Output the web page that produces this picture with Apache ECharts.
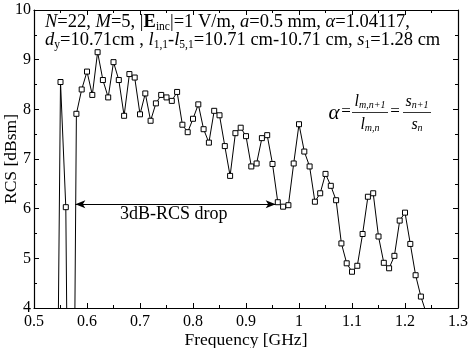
<!DOCTYPE html>
<html><head><meta charset="utf-8">
<script src="https://cdn.jsdelivr.net/npm/echarts@6/dist/echarts.min.js"></script>
<style>html,body{margin:0;padding:0;background:#fff}#c{width:474px;height:348px}</style>
</head><body><div id="c"></div>
<script>
var freq = [0.54,0.55,0.56,0.57,0.58,0.59,0.60,0.61,0.62,0.63,0.64,0.65,0.66,0.67,0.68,0.69,
  0.70,0.71,0.72,0.73,0.74,0.75,0.76,0.77,0.78,0.79,0.80,0.81,0.82,0.83,0.84,0.85,0.86,0.87,0.88,0.89,
  0.90,0.91,0.92,0.93,0.94,0.95,0.96,0.97,0.98,0.99,1.00,1.01,1.02,1.03,1.04,1.05,1.06,1.07,1.08,1.09,
  1.10,1.11,1.12,1.13,1.14,1.15,1.16,1.17,1.18,1.19,1.20,1.21,1.22,1.23,1.24];
var rcs = [-3.0,8.55,6.03,-6.0,7.91,8.40,8.76,8.29,9.15,8.59,8.24,8.95,8.59,7.87,8.71,8.64,
  7.90,8.32,7.77,8.12,8.29,8.24,8.17,8.35,7.69,7.54,7.81,8.10,7.60,7.33,7.97,7.88,7.26,6.66,7.52,7.63,
  7.46,6.85,6.91,7.42,7.48,6.90,6.13,6.04,6.07,6.91,7.70,7.15,6.85,6.14,6.31,6.70,6.46,6.17,5.30,4.90,
  4.73,4.85,5.49,6.24,6.31,5.44,4.91,4.80,5.05,5.76,5.92,5.29,4.66,4.23,3.90];
var xTicks = [0.5,0.6,0.7,0.8,0.9,1.0,1.1,1.2,1.3];
var yTicks = [4,5,6,7,8,9,10];
var dropArrow = {from:0.578, to:0.956, level:6.09, label:'3dB-RCS drop'};

var FF = 'Liberation Serif';
var chart = echarts.init(document.getElementById('c'), null, {renderer:'canvas'});
var axCommon = {
  axisLine:{show:true,lineStyle:{color:'#000',width:1.2}},
  axisTick:{show:true,inside:true,length:5,lineStyle:{color:'#000'}},
  minorTick:{show:true,splitNumber:2,length:3,lineStyle:{color:'#000'}},
  splitLine:{show:false}
};
function ax(extra){ return Object.assign({}, JSON.parse(JSON.stringify(axCommon)), extra); }
var FS = 18.5;
var sub = {fontFamily:FF,fontSize:11.5,padding:[8,0,0,0],color:'#000'};
var richBase = {
  i:{fontFamily:FF,fontSize:FS,fontStyle:'italic',color:'#000'},
  b:{fontFamily:FF,fontSize:FS,fontWeight:'bold',color:'#000'},
  s:sub,
  n:{fontFamily:FF,fontSize:FS,color:'#000'}
};
var fr = {i:{fontFamily:FF,fontSize:16,fontStyle:'italic',color:'#000'},s:{fontFamily:FF,fontSize:10,fontStyle:'italic',padding:[6,0,0,0],color:'#000'}};
chart.setOption({
  animation:false,
  grid:{left:34,right:16,top:10,bottom:40,containLabel:false,outerBoundsMode:'none'},
  xAxis:[ax({type:'value',min:0.5,max:1.3,interval:0.1,position:'bottom',
      axisLabel:{color:'#000',fontFamily:FF,fontSize:16,margin:6,
        formatter:function(v){var r=Math.round(v*10)/10; return xTicks.indexOf(r)>=0?String(r):'';}},
      name:'Frequency [GHz]',nameLocation:'middle',nameGap:23,nameMoveOverlap:false,
      nameTextStyle:{color:'#000',fontFamily:FF,fontSize:17.5}}),
    ax({type:'value',min:0.5,max:1.3,interval:0.1,position:'top',axisLabel:{show:false}})],
  yAxis:[ax({type:'value',min:4,max:10,interval:1,position:'left',
      axisLabel:{color:'#000',fontFamily:FF,fontSize:16,margin:3,
        formatter:function(v){return yTicks.indexOf(v)>=0?String(v):'';}},
      name:'RCS [dBsm]',nameLocation:'middle',nameGap:14,nameMoveOverlap:false,
      nameTextStyle:{color:'#000',fontFamily:FF,fontSize:17.5}}),
    ax({type:'value',min:4,max:10,interval:1,position:'right',axisLabel:{show:false}})],
  series:[{
    type:'line',xAxisIndex:0,yAxisIndex:0,
    data:freq.map(function(f,i){return [f,rcs[i]];}),
    clip:true,
    symbol:'rect',symbolSize:5,showAllSymbol:true,
    lineStyle:{color:'#000',width:1},
    itemStyle:{color:'#fff',borderColor:'#000',borderWidth:1},
    emphasis:{disabled:true},
    markLine:{silent:true,symbol:['arrow','arrow'],symbolSize:[6,10],
      label:{show:false},lineStyle:{color:'#000',width:1,type:'solid'},
      emphasis:{disabled:true},
      data:[[{coord:[dropArrow.from,dropArrow.level]},{coord:[dropArrow.to,dropArrow.level]}]]}
  }],
  graphic:[
    {type:'text',left:45,top:13,silent:true,style:{
      text:'{i|N}{n|=22, }{i|M}{n|=5, |}{b|E}{s|inc}{n||=1 V/m, }{i|a}{n|=0.5 mm, }{i|α}{n|=1.04117,}',
      rich:richBase}},
    {type:'text',left:45,top:31,silent:true,style:{
      text:'{i|d}{s|y}{n|=10.71cm , }{i|l}{s|1,1}{n|-}{i|l}{s|5,1}{n|=10.71 cm-10.71 cm, }{i|s}{s|1}{n|=1.28 cm}',
      rich:richBase}},
    {type:'text',left:120,top:205,silent:true,style:{text:dropArrow.label,fontFamily:FF,fontSize:18,fill:'#000'}},
    {type:'group',silent:true,children:[
      {type:'text',x:334,y:113,style:{text:'α',fontFamily:FF,fontSize:21,fontStyle:'italic',fill:'#000',align:'center',verticalAlign:'middle'}},
      {type:'text',x:346,y:112,style:{text:'=',fontFamily:FF,fontSize:17,fill:'#000',align:'center',verticalAlign:'middle'}},
      {type:'text',x:370,y:102,style:{text:'{i|l}{s|m,n+1}',align:'center',verticalAlign:'middle',rich:fr}},
      {type:'line',shape:{x1:352,y1:112.5,x2:388,y2:112.5},style:{stroke:'#000',lineWidth:0.8}},
      {type:'text',x:370,y:125,style:{text:'{i|l}{s|m,n}',align:'center',verticalAlign:'middle',rich:fr}},
      {type:'text',x:395,y:112,style:{text:'=',fontFamily:FF,fontSize:17,fill:'#000',align:'center',verticalAlign:'middle'}},
      {type:'text',x:417,y:102,style:{text:'{i|s}{s|n+1}',align:'center',verticalAlign:'middle',rich:fr}},
      {type:'line',shape:{x1:403,y1:112.5,x2:431,y2:112.5},style:{stroke:'#000',lineWidth:0.8}},
      {type:'text',x:417,y:125,style:{text:'{i|s}{s|n}',align:'center',verticalAlign:'middle',rich:fr}}
    ]}
  ]
});
</script></body></html>
